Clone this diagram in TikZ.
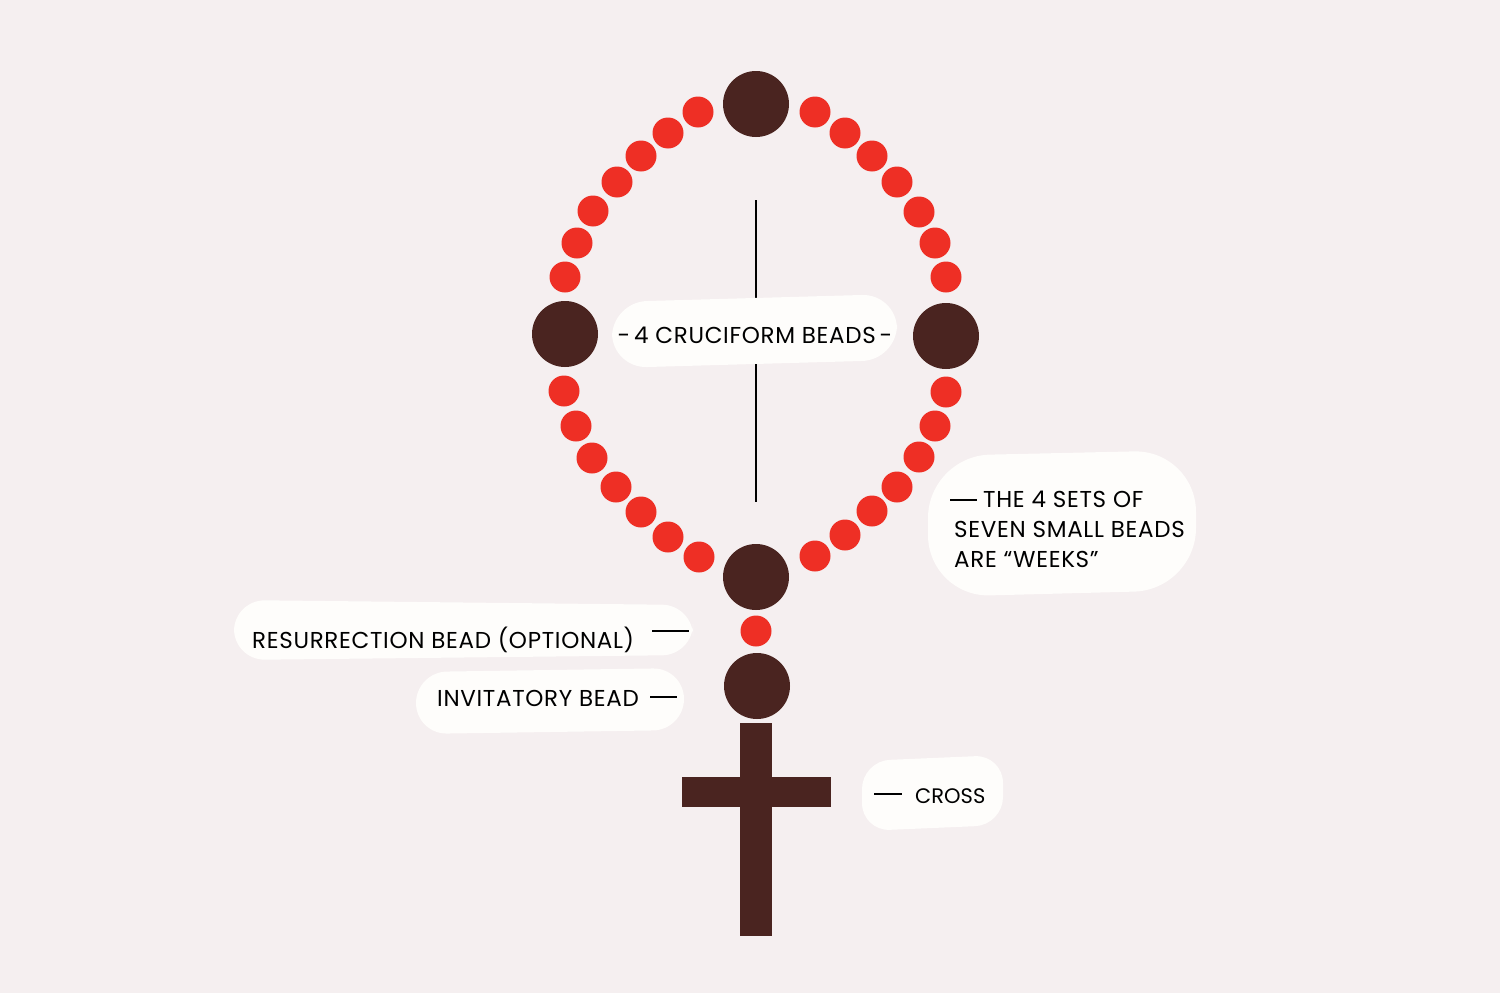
\documentclass[tikz,border=0pt]{standalone}
\usepackage{fontspec}
\setmainfont{Poppins}[LetterSpace=3]
\newfontfamily\crossfont{Poppins}
\definecolor{bg}{HTML}{F5EFF0}
\definecolor{beadred}{HTML}{EE2F25}
\definecolor{beadbrown}{HTML}{4A2420}
\definecolor{blob}{HTML}{FEFDFB}
\begin{document}
\begin{tikzpicture}[x=1pt,y=-1pt,
  small/.style={circle,fill=beadred,draw=none,inner sep=0pt,minimum size=31pt},
  big/.style={circle,fill=beadbrown,draw=none,inner sep=0pt,minimum size=66pt},
  blobfill/.style={fill=blob,draw=none},
  lbl/.style={inner sep=0pt,font=\fontsize{23}{30}\selectfont,text=black},
  tick/.style={line width=1.8pt,black},
  bar/.style={fill=beadbrown,draw=none}]
\fill[bg] (0,0) rectangle (1500,993);
\useasboundingbox (0,0) rectangle (1500,993);
% vertical line
\coordinate (vt) at (756,200);
\coordinate (vb) at (756,502);
\draw[line width=1.5pt,black] (vt) -- (vb);
% big beads
\node[big] (btop) at (756,104) {};
\node[big] (bleft) at (565,334) {};
\node[big] (bright) at (946,336) {};
\node[big] (bbot) at (756,577) {};
\node[big] (binv) at (757,686) {};
\node[small] (res) at (756,631) {};
% small beads
\foreach \i/\x/\y in {1/698/112,2/668/133,3/641/156,4/617/182,5/593/211,6/577/243,7/565/277}
  \node[small] (ul\i) at (\x,\y) {};
\foreach \i/\x/\y in {1/815/112,2/845/133,3/872/156,4/897/182,5/919/212,6/935/243,7/946/277}
  \node[small] (ur\i) at (\x,\y) {};
\foreach \i/\x/\y in {1/564/391,2/576/426,3/592/458,4/616/487,5/641/512,6/668/537,7/699/557}
  \node[small] (ll\i) at (\x,\y) {};
\foreach \i/\x/\y in {1/946/392,2/935/426,3/919/457,4/897/487,5/872/511,6/845/535,7/815/556}
  \node[small] (lr\i) at (\x,\y) {};
% cross
\fill[bar] (740,723) rectangle (772,936);
\fill[bar] (682,777) rectangle (831,807);
% blobs
\fill[blobfill,rounded corners=35pt] (612,302) -- (897,294) -- (897,360) -- (612,368) -- cycle;
\fill[blobfill,rounded corners=31pt] (234,600) -- (693,605) -- (693,655) -- (234,660) -- cycle;
\fill[blobfill,rounded corners=31pt] (416,672) -- (684,668) -- (684,730) -- (416,734) -- cycle;
\fill[blobfill,rounded corners=62pt] (928,456) -- (1196,450) -- (1196,590) -- (928,597) -- cycle;
\fill[blobfill,rounded corners=28pt] (862,761) -- (1003,755) -- (1003,825) -- (862,831) -- cycle;
% labels
\node[lbl,anchor=base] (tcru) at (755,343) {-\,4 CRUCIFORM BEADS\,-};
\node[lbl,anchor=base west] (tres) at (252,648) {RESURRECTION BEAD (OPTIONAL)};
\node[lbl,anchor=base west] (tinv) at (437,706) {INVITATORY BEAD};
\node[lbl,anchor=base west,font=\crossfont\fontsize{21}{30}\selectfont] (tcross) at (915,803) {CROSS};
\node[lbl,anchor=base west] (tweek1) at (983,507) {THE 4 SETS OF};
\node[lbl,anchor=base west] (tweek2) at (954,537) {SEVEN SMALL BEADS};
\node[lbl,anchor=base west] (tweek3) at (954,567) {ARE “WEEKS”};
\draw[tick] (950,500) -- (977,500);
\draw[tick] (652,631) -- (689,631);
\draw[tick] (650,697) -- (677,697);
\draw[tick] (874,794) -- (902,794);
\end{tikzpicture}
\end{document}
